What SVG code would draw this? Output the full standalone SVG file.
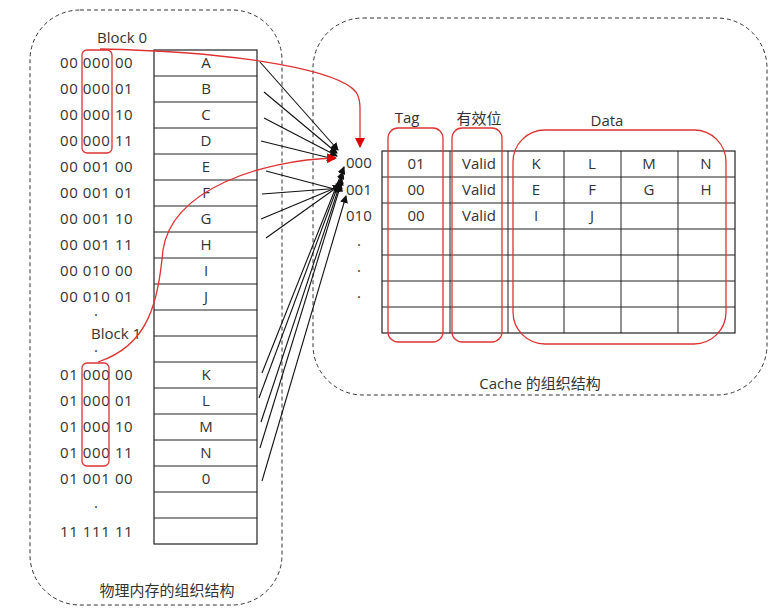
<svg xmlns="http://www.w3.org/2000/svg" width="781" height="613" viewBox="0 0 781 613">
<style>
text{font-family:"Open Sans","Noto Sans CJK SC",sans-serif;font-size:15px;fill:#333}
.c{text-anchor:middle}
.addr{letter-spacing:0.6px}
.cell{fill:#fff;stroke:#222;stroke-width:1.2}
.dash{fill:none;stroke:#333;stroke-dasharray:4 3}
.red{fill:none;stroke:#d33;stroke-width:1.3}
.ar{stroke:#111;stroke-width:1.1;marker-end:url(#ab)}
</style>
<defs>
<marker id="ab" markerWidth="8" markerHeight="8" refX="7" refY="4" orient="auto" markerUnits="userSpaceOnUse"><path d="M0,0 L8,4 L0,8 Z" fill="#111"/></marker>
<marker id="ar" markerWidth="10" markerHeight="10" refX="9" refY="5" orient="auto" markerUnits="userSpaceOnUse"><path d="M0,0 L10,5 L0,10 Z" fill="#d00"/></marker>
</defs>
<g id="frames">
<rect class="dash" x="30" y="10" width="252" height="595" rx="50"/>
<rect class="dash" x="313" y="18" width="454" height="377" rx="50"/>
<text class="c" x="540" y="389">Cache 的组织结构</text>
<text class="c" x="167" y="596">物理内存的组织结构</text>
</g>
<g id="memory">
<rect class="cell" x="154" y="50" width="103" height="494"/>
<path stroke="#222" d="M154 76H257M154 102H257M154 128H257M154 154H257M154 180H257M154 206H257M154 232H257M154 258H257M154 284H257M154 310H257M154 336H257M154 362H257M154 388H257M154 414H257M154 440H257M154 466H257M154 492H257M154 518H257"/>
<g class="c">
<text x="206" y="68">A</text><text x="206" y="94">B</text><text x="206" y="120">C</text><text x="206" y="146">D</text><text x="206" y="172">E</text><text x="206" y="198">F</text><text x="206" y="224">G</text><text x="206" y="250">H</text><text x="206" y="276">I</text><text x="206" y="302">J</text>
<text x="206" y="380">K</text><text x="206" y="406">L</text><text x="206" y="432">M</text><text x="206" y="458">N</text><text x="206" y="484">0</text>
</g>
<g class="addr">
<text x="60" y="68">00 000 00</text><text x="60" y="94">00 000 01</text><text x="60" y="120">00 000 10</text><text x="60" y="146">00 000 11</text>
<text x="60" y="172">00 001 00</text><text x="60" y="198">00 001 01</text><text x="60" y="224">00 001 10</text><text x="60" y="250">00 001 11</text>
<text x="60" y="276">00 010 00</text><text x="60" y="302">00 010 01</text>
<text x="60" y="380">01 000 00</text><text x="60" y="406">01 000 01</text><text x="60" y="432">01 000 10</text><text x="60" y="458">01 000 11</text>
<text x="60" y="484">01 001 00</text><text x="60" y="537">11 111 11</text>
</g>
<text x="94" y="316">.</text><text x="94" y="352">.</text><text x="94" y="508">.</text>
<text x="97" y="43">Block 0</text><text x="91" y="339">Block 1</text>
<rect class="red" x="82" y="50" width="30" height="103" rx="5"/>
<rect class="red" x="82" y="363" width="27" height="103" rx="5"/>
</g>
<g id="cache">
<rect class="cell" x="382" y="151" width="353" height="182"/>
<path stroke="#222" d="M382 177H735M382 203H735M382 229H735M382 255H735M382 281H735M382 307H735M450 151V333M508 151V333M564 151V333M621 151V333M678 151V333"/>
<g class="c">
<text x="416" y="169">01</text><text x="479" y="169">Valid</text><text x="536" y="169">K</text><text x="592" y="169">L</text><text x="649" y="169">M</text><text x="706" y="169">N</text>
<text x="416" y="195">00</text><text x="479" y="195">Valid</text><text x="536" y="195">E</text><text x="592" y="195">F</text><text x="649" y="195">G</text><text x="706" y="195">H</text>
<text x="416" y="221">00</text><text x="479" y="221">Valid</text><text x="536" y="221">I</text><text x="592" y="221">J</text>
<text x="407" y="123">Tag</text><text x="479" y="124">有效位</text><text x="607" y="126">Data</text>
</g>
<text x="346" y="168">000</text><text x="346" y="195">001</text><text x="346" y="221">010</text>
<text x="357" y="246">.</text><text x="357" y="272">.</text><text x="357" y="298">.</text>
<rect class="red" x="388" y="128" width="55" height="214" rx="10"/>
<rect class="red" x="452" y="128" width="50" height="214" rx="10"/>
<rect class="red" x="513" y="130" width="213" height="214" rx="32"/>
</g>
<g id="connectors">
<line class="ar" x1="260" y1="62" x2="338" y2="150"/>
<line class="ar" x1="264" y1="92" x2="337" y2="153"/>
<line class="ar" x1="264" y1="118" x2="337" y2="156"/>
<line class="ar" x1="261" y1="141" x2="334" y2="159"/>
<line class="ar" x1="266" y1="171" x2="342" y2="191"/>
<line class="ar" x1="262" y1="194" x2="342" y2="188"/>
<line class="ar" x1="261" y1="219" x2="340" y2="186"/>
<line class="ar" x1="266" y1="238" x2="343" y2="183"/>
<line class="ar" x1="262" y1="373" x2="344" y2="167"/>
<line class="ar" x1="259" y1="398" x2="343" y2="172"/>
<line class="ar" x1="261" y1="422" x2="342" y2="178"/>
<line class="ar" x1="260" y1="448" x2="341" y2="184"/>
<line class="ar" x1="262" y1="481" x2="346" y2="196"/>
<path class="red" marker-end="url(#ar)" d="M100 49 C250 52 340 72 356 92 Q360 98 360 108 L360 147"/>
<path class="red" marker-end="url(#ar)" d="M98 362 C150 345 158 300 163 250 C172 190 260 160 336 158"/>
</g>
</svg>
